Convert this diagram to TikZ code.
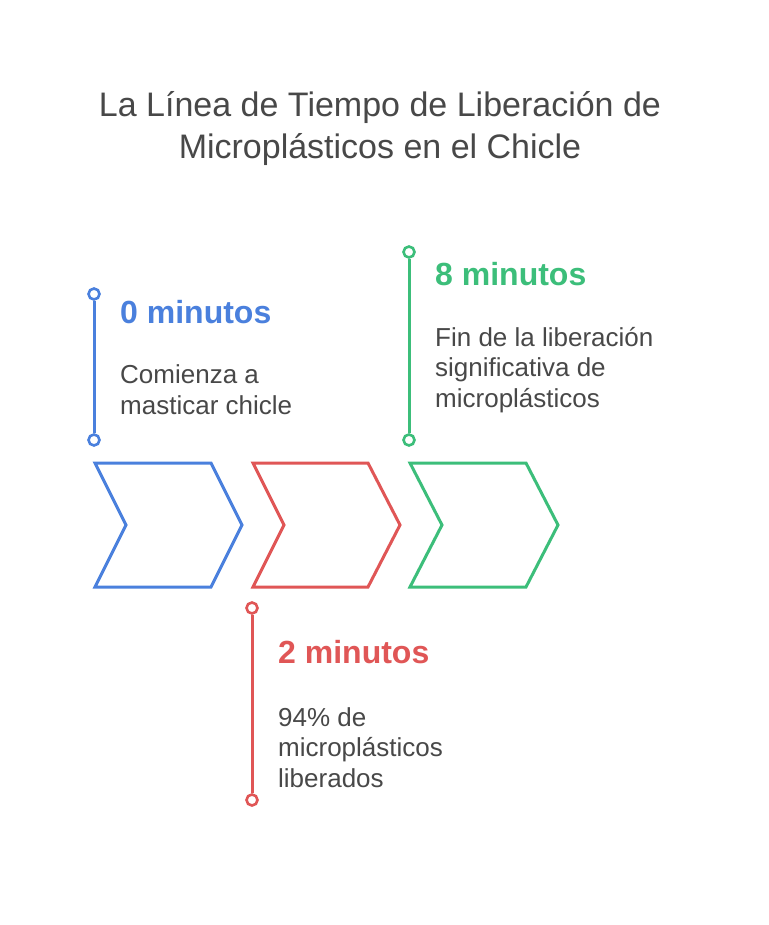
\documentclass[tikz,border=0pt]{standalone}
\usepackage{fontspec}
\setmainfont{Liberation Sans}
\usetikzlibrary{arrows.meta}
\definecolor{tblue}{RGB}{74,128,221}
\definecolor{tred}{RGB}{224,86,86}
\definecolor{tgreen}{RGB}{60,190,122}
\definecolor{tgray}{RGB}{72,72,72}
\tikzset{
  title/.style={align=center, text=tgray, font=\fontsize{34}{42}\selectfont},
  khead/.style={anchor=base west, inner sep=0pt, font=\fontsize{32}{36}\selectfont\bfseries},
  kbody/.style={anchor=base west, inner sep=0pt, align=left, text=tgray, font=\fontsize{26}{30.5}\selectfont},
  kdot/.style={circle, line width=2.6pt, fill=white, minimum size=11pt, inner sep=0pt},
  kline/.style={line width=3pt},
  chev/.style={line width=3pt, line join=miter},
}

\begin{document}
\begin{tikzpicture}[x=1pt, y=-1pt]
    \useasboundingbox[fill=white] (0,0) rectangle (768,925);
    \node[title, anchor=base] (title) at (380,159) {La Línea de Tiempo de Liberación de\\Microplásticos en el Chicle};
    % chevrons
    \draw[chev, tblue] (95,463) -- (211,463) -- (242,525) -- (211,587) -- (95,587) -- (126,525) -- cycle;
    \draw[chev, tred] (253,463) -- (368,463) -- (400,525) -- (368,587) -- (253,587) -- (284,525) -- cycle;
    \draw[chev, tgreen] (410,463) -- (526,463) -- (558,525) -- (526,587) -- (410,587) -- (442,525) -- cycle;
    % 0 minutos
    \node[kdot, draw=tblue] (zerotop) at (94,294) {};
    \node[kdot, draw=tblue] (zerobot) at (94,440) {};
    \draw[kline, tblue] (zerotop) -- (zerobot);
    \node[khead, text=tblue] (zerohead) at (120,323) {0 minutos};
    \node[kbody] (zerobody) at (120,414) {Comienza a\\masticar chicle};
    % 2 minutos
    \node[kdot, draw=tred] (twotop) at (252,608) {};
    \node[kdot, draw=tred] (twobot) at (252,800) {};
    \draw[kline, tred] (twotop) -- (twobot);
    \node[khead, text=tred] (twohead) at (278,663) {2 minutos};
    \node[kbody] (twobody) at (278,787) {94\% de\\microplásticos\\liberados};
    % 8 minutos
    \node[kdot, draw=tgreen] (eighttop) at (409,252) {};
    \node[kdot, draw=tgreen] (eightbot) at (409,440) {};
    \draw[kline, tgreen] (eighttop) -- (eightbot);
    \node[khead, text=tgreen] (eighthead) at (435,285) {8 minutos};
    \node[kbody] (eightbody) at (435,407) {Fin de la liberación\\significativa de\\microplásticos};
\end{tikzpicture}
\end{document}
